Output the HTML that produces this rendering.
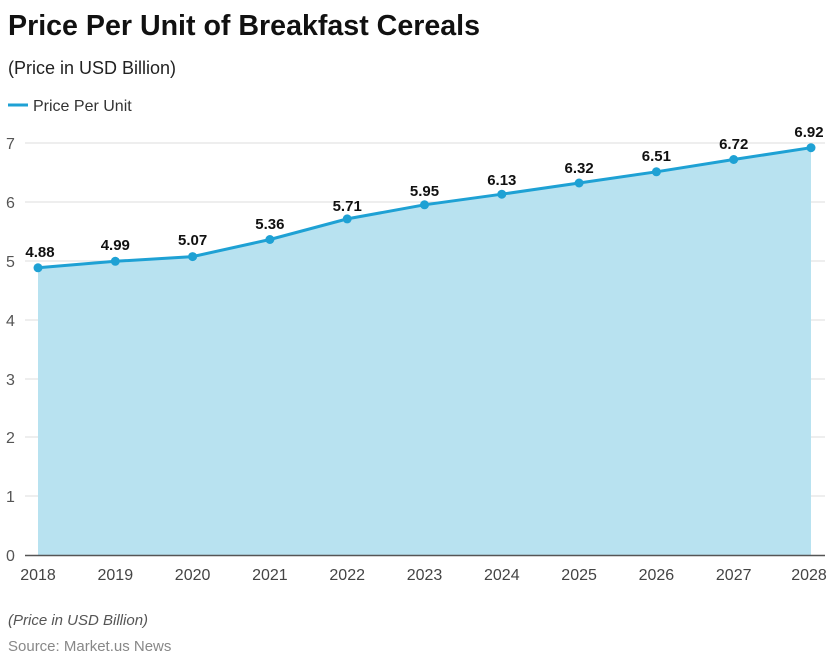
<!DOCTYPE html>
<html><head><meta charset="utf-8"><style>
body{margin:0;background:#fff;width:840px;height:662px;overflow:hidden;font-family:"Liberation Sans",sans-serif;}
</style></head><body>
<svg width="840" height="662" xmlns="http://www.w3.org/2000/svg" font-family="Liberation Sans, sans-serif">
<text x="8" y="35" font-size="28.6" font-weight="bold" fill="#111">Price Per Unit of Breakfast Cereals</text>
<text x="8" y="74" font-size="18" fill="#222">(Price in USD Billion)</text>
<line x1="8" y1="105" x2="28" y2="105" stroke="#1ea1d4" stroke-width="3"/>
<text x="33" y="111" font-size="16" fill="#333">Price Per Unit</text>
<g stroke="#ddd" stroke-width="1">
<line x1="25" y1="143" x2="825" y2="143"/><line x1="25" y1="202" x2="825" y2="202"/>
<line x1="25" y1="261" x2="825" y2="261"/><line x1="25" y1="320" x2="825" y2="320"/>
<line x1="25" y1="379" x2="825" y2="379"/><line x1="25" y1="437" x2="825" y2="437"/>
<line x1="25" y1="496" x2="825" y2="496"/>
</g>
<g font-size="16" fill="#555" text-anchor="start">
<text x="6" y="149">7</text><text x="6" y="208">6</text><text x="6" y="267">5</text>
<text x="6" y="326">4</text><text x="6" y="385">3</text><text x="6" y="443">2</text>
<text x="6" y="502">1</text><text x="6" y="561">0</text>
</g>
<polygon fill="#b8e2f0" points="38,555 38,267.8 115.3,261.3 192.6,256.6 269.9,239.5 347.2,218.9 424.5,204.8 501.8,194.2 579.1,183 656.4,171.8 733.7,159.5 811,147.7 811,555"/>
<polyline fill="none" stroke="#1ea1d4" stroke-width="3" points="38,267.8 115.3,261.3 192.6,256.6 269.9,239.5 347.2,218.9 424.5,204.8 501.8,194.2 579.1,183 656.4,171.8 733.7,159.5 811,147.7"/>
<g fill="#1ea1d4">
<circle cx="38" cy="267.8" r="4.5"/><circle cx="115.3" cy="261.3" r="4.5"/><circle cx="192.6" cy="256.6" r="4.5"/>
<circle cx="269.9" cy="239.5" r="4.5"/><circle cx="347.2" cy="218.9" r="4.5"/><circle cx="424.5" cy="204.8" r="4.5"/>
<circle cx="501.8" cy="194.2" r="4.5"/><circle cx="579.1" cy="183" r="4.5"/><circle cx="656.4" cy="171.8" r="4.5"/>
<circle cx="733.7" cy="159.5" r="4.5"/><circle cx="811" cy="147.7" r="4.5"/>
</g>
<g font-size="15" font-weight="bold" fill="#111" text-anchor="middle">
<text x="40" y="257">4.88</text><text x="115.3" y="250">4.99</text><text x="192.6" y="245">5.07</text>
<text x="269.9" y="229">5.36</text><text x="347.2" y="211">5.71</text><text x="424.5" y="196">5.95</text>
<text x="501.8" y="185">6.13</text><text x="579.1" y="173">6.32</text><text x="656.4" y="161">6.51</text>
<text x="733.7" y="149">6.72</text><text x="809" y="137">6.92</text>
</g>
<line x1="25" y1="555.5" x2="825" y2="555.5" stroke="#555" stroke-width="1.5"/>
<g font-size="16" fill="#444" text-anchor="middle">
<text x="38" y="580">2018</text><text x="115.3" y="580">2019</text><text x="192.6" y="580">2020</text>
<text x="269.9" y="580">2021</text><text x="347.2" y="580">2022</text><text x="424.5" y="580">2023</text>
<text x="501.8" y="580">2024</text><text x="579.1" y="580">2025</text><text x="656.4" y="580">2026</text>
<text x="733.7" y="580">2027</text><text x="809" y="580">2028</text>
</g>
<text x="8" y="625" font-size="15" font-style="italic" fill="#555">(Price in USD Billion)</text>
<text x="8" y="651" font-size="15" fill="#888">Source: Market.us News</text>
</svg>
</body></html>
